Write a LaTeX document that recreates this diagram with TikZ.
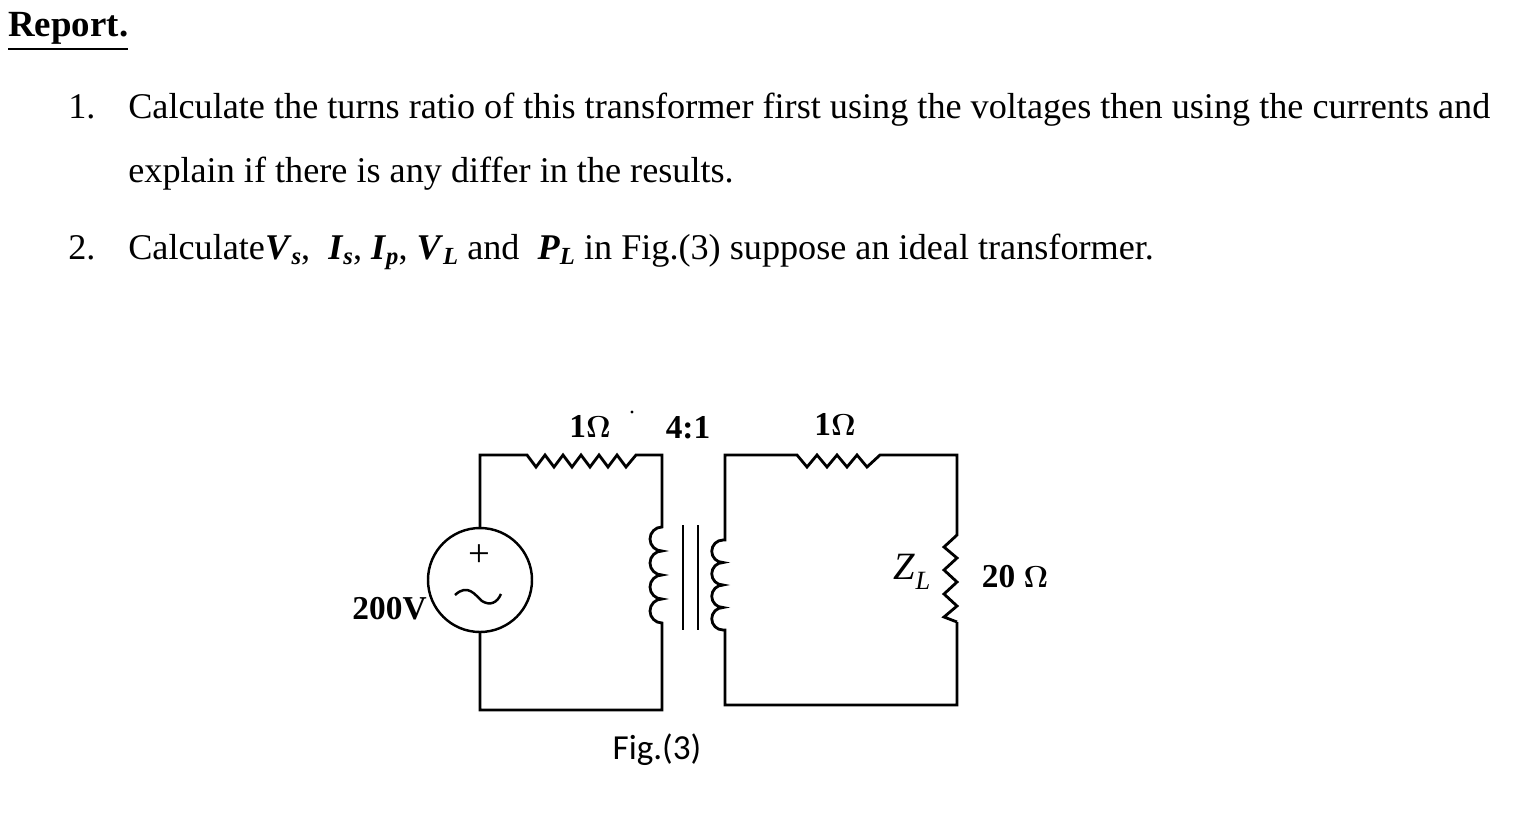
\documentclass[tikz,border=0pt]{standalone}
\usepackage{amsmath}
\usepackage{fontspec}
\setmainfont{Liberation Serif}
\newfontfamily\carl{Carlito}
\newcommand{\bv}[2]{\textbf{\textit{#1}}\raisebox{-0.35ex}{\fontsize{14}{14}\selectfont\textbf{\textit{#2}}}}
\begin{document}
\begin{tikzpicture}[x=0.02cm,y=-0.02cm,
  wire/.style={line width=1.6pt},
  txt/.style={anchor=base west,inner sep=0,font=\fontsize{20.6}{24}\selectfont},
  lbl/.style={inner sep=0,font=\fontsize{19}{20}\selectfont\bfseries}]
\useasboundingbox (0,0) rectangle (1526,822);
% text
\node[txt,font=\fontsize{21}{24}\selectfont\bfseries] (rep) at (8,36) {\underline{Report.}};
\node[txt] (n1) at (68,118) {1.};
\node[txt] (l1) at (128,118) {Calculate the turns ratio of this transformer first using the voltages then using the currents and};
\node[txt] (l1b) at (128,182) {explain if there is any differ in the results.};
\node[txt] (n2) at (68,259) {2.};
\node[txt] (l2) at (128,259) {Calculate\bv{V}{s}, \ \bv{I}{s}, \bv{I}{p}, \bv{V}{L} and \ \bv{P}{L} in Fig.(3) suppose an ideal transformer.};
% primary
\coordinate (pa) at (480,455); \coordinate (pb) at (527,455);
\coordinate (pc) at (636,455); \coordinate (pd) at (662,455);
\node[circle,draw,line width=1.4pt,minimum size=104*0.02cm,inner sep=0] (src) at (480,580) {};
\draw[wire] (src.north) -- (pa) -- (pb)
  -- (536,467) -- (545,455) -- (554,467) -- (563,455) -- (572,467) -- (581,455) -- (590,467) -- (599,455) -- (608,467) -- (617,455) -- (626,467) -- (pc) -- (pd) -- (662,527)
  arc[start angle=90,end angle=270,radius=0.24cm]
  arc[start angle=90,end angle=270,radius=0.24cm]
  arc[start angle=90,end angle=270,radius=0.24cm]
  arc[start angle=90,end angle=270,radius=0.24cm]
  -- (662,710) -- (480,710) -- (src.south);
\node[font=\fontsize{22}{22}\selectfont] (plus) at (479,556) {+};
\draw[line width=1.4pt] (455,595) .. controls (468,583) and (475,595) .. (482,601) .. controls (490,606) and (497,603) .. (501,594);
\node[lbl,anchor=east] (v) at (427,609) {200V};
% core
\draw[line width=1.4pt] (683,525) -- (683,630);
\draw[line width=1.4pt] (698,525) -- (698,630);
% secondary
\coordinate (sb) at (725,455);
\coordinate (sc) at (797,455); \coordinate (sd) at (880,455);
\coordinate (se) at (957,455); \coordinate (sf) at (957,535);
\coordinate (sg) at (957,622);
\draw[wire] (sg) -- (957,705) -- (725,705) -- (725,630) -- (723,630)
  arc[start angle=270,end angle=90,radius=0.225cm]
  arc[start angle=270,end angle=90,radius=0.225cm]
  arc[start angle=270,end angle=90,radius=0.225cm]
  arc[start angle=270,end angle=90,radius=0.225cm]
  -- (725,540) -- (sb) -- (sc) -- (807,467) -- (817,455) -- (827,467) -- (837,455) -- (847,467) -- (857,455) -- (867,467) -- (sd) -- (se) -- (sf)
  -- (944,547) -- (957,558) -- (944,570) -- (957,582) -- (944,594) -- (957,606) -- (944,617) -- (sg);
% labels
\node[lbl] (r1) at (590,426) {1$\boldsymbol{\Omega}$};
\node[lbl] (ratio) at (688,428) {4:1};
\fill (632,412) circle (0.9pt);
\node[lbl] (r2) at (835,424) {1$\boldsymbol{\Omega}$};
\node[inner sep=0,font=\fontsize{22}{22}\selectfont] (zl) at (912,572) {\textit{Z}\raisebox{-0.6ex}{\fontsize{15}{15}\selectfont\textit{L}}};
\node[lbl] (r3) at (1015,577) {20 $\boldsymbol{\Omega}$};
\node[inner sep=0,font=\carl\fontsize{20}{22}\selectfont] (fig) at (657,750) {Fig.(3)};
\end{tikzpicture}
\end{document}
